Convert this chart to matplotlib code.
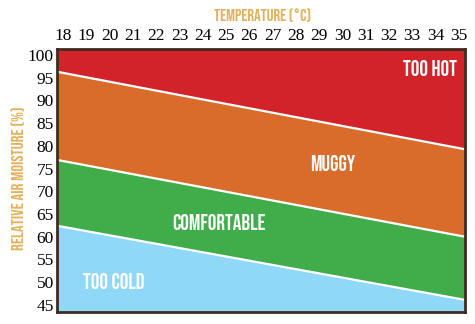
import matplotlib.pyplot as plt
from matplotlib import font_manager

# temperature range spanned by the boundary lines (plot edges)
temp_edges = [17.74, 35.27]
# relative humidity boundaries between zones, at left and right edge
hot_line = [96.3, 79.25]
muggy_line = [76.9, 60.0]
cold_line = [62.4, 46.1]
x_ticks = list(range(18, 36))
y_ticks = list(range(45, 101, 5))

zone_names = ['TOO HOT', 'MUGGY', 'COMFORTABLE', 'TOO COLD']
zone_pos = [(33.78, 97.1), (29.6, 76.2), (24.7, 63.3), (20.18, 50.3)]

c_red = '#d2232a'
c_orange = '#d96c2b'
c_green = '#41ad4a'
c_blue = '#8fd8f7'
c_frame = '#3f2b1f'
c_title = '#e3b15a'

ymin, ymax = 43.5, 101.25


def pick(*families):
    have = {f.name for f in font_manager.fontManager.ttflist}
    for fam in families:
        if fam in have:
            return fam
    return 'DejaVu Sans'


head_font = pick('Bebas Neue', 'Oswald', 'IBM Plex Sans Condensed')
tick_font = pick('Liberation Serif', 'DejaVu Serif')

fig = plt.figure(figsize=(4.75, 3.24), dpi=100)
ax = fig.add_axes([57.3 / 475, 1 - 311.7 / 324, (465 - 57.3) / 475, (311.7 - 49.3) / 324])

ax.fill_between(temp_edges, hot_line, [ymax, ymax], color=c_red, lw=0)
ax.fill_between(temp_edges, muggy_line, hot_line, color=c_orange, lw=0)
ax.fill_between(temp_edges, cold_line, muggy_line, color=c_green, lw=0)
ax.fill_between(temp_edges, [ymin, ymin], cold_line, color=c_blue, lw=0)
for line in (hot_line, muggy_line, cold_line):
    ax.plot(temp_edges, line, color='white', lw=1.6, solid_capstyle='butt')

for name, (tx, ty) in zip(zone_names, zone_pos):
    ax.text(tx, ty, name, color='white', fontsize=15.5, family=head_font,
            ha='center', va='center')

ax.set_xlim(temp_edges)
ax.set_ylim(ymin, ymax)
ax.xaxis.tick_top()
ax.set_xticks(x_ticks)
ax.set_yticks(y_ticks)
ax.tick_params(axis='x', length=0, pad=4, labelsize=12.5)
ax.tick_params(axis='y', length=0, pad=2.5, labelsize=12.5)
for lab in ax.get_xticklabels() + ax.get_yticklabels():
    lab.set_family(tick_font)

for s in ax.spines.values():
    s.set_color(c_frame)
    s.set_linewidth(2)

fig.text(263 / 475, 1 - 15 / 324, 'TEMPERATURE (°C)', color=c_title, fontsize=12,
         family=[head_font, 'DejaVu Sans'], ha='center', va='center')
fig.text(18 / 475, 1 - 178 / 324, 'RELATIVE AIR MOISTURE (%)', color=c_title, fontsize=12.2,
         family=head_font, ha='center', va='center', rotation=90)

fig.savefig('out.png', dpi=100)
